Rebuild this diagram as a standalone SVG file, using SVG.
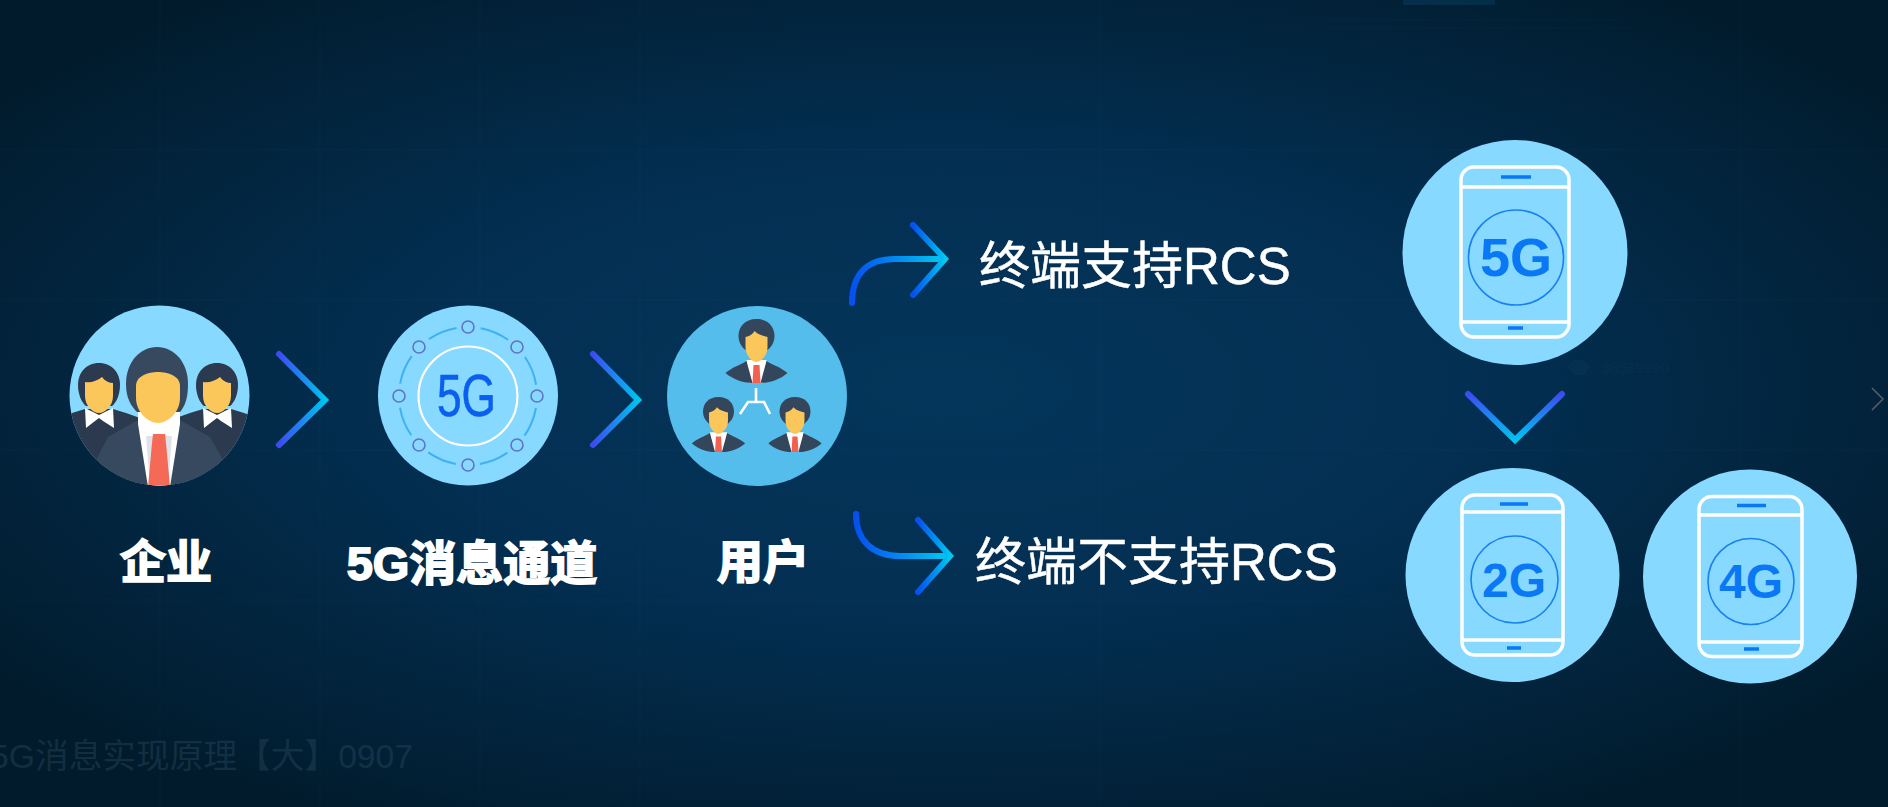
<svg xmlns="http://www.w3.org/2000/svg" xmlns:xlink="http://www.w3.org/1999/xlink" width="1888" height="807" viewBox="0 0 1888 807">
<style>
.lb{font-family:"Liberation Sans","Noto Sans CJK SC",sans-serif;font-weight:700;font-size:46px;fill:#fff;stroke:#fff;stroke-width:1.8px;text-anchor:middle}
.tx{font-family:"Liberation Sans","Noto Sans CJK SC",sans-serif;font-size:51px;fill:#fff;stroke:#fff;stroke-width:.5px}
.g{font-family:"Liberation Sans",sans-serif;font-weight:700;fill:#0a78f5;text-anchor:middle}
.disc{fill:#87d9ff}
.ph{fill:none;stroke:#fff;stroke-width:3.5}
.sp{stroke:#0a78f5;stroke-width:3.5;fill:none}
.ring{fill:none;stroke:#1a80f0;stroke-width:1.6}
.dot{fill:#87d9ff;stroke:#5f74c4;stroke-width:1.6}
.c{fill:none;stroke-width:6;stroke-linecap:round;stroke-linejoin:miter}
.grid{stroke:#4a90b8;stroke-width:1;opacity:.04}
.wm{font-family:"Liberation Sans","Noto Sans CJK SC",sans-serif;fill:#2b4a60;opacity:.42}
</style>
<defs>
<radialGradient id="bg" cx="0.5" cy="0.48" r="0.62">
<stop offset="0" stop-color="#04365b"/><stop offset="0.45" stop-color="#032f52"/><stop offset="0.8" stop-color="#02233b"/><stop offset="1" stop-color="#011b2c"/>
</radialGradient>
<linearGradient id="gh"><stop offset="0" stop-color="#3a4cf2"/><stop offset="1" stop-color="#00c4f0"/></linearGradient>
<linearGradient id="gv" x1="0" y1="0" x2="0" y2="1"><stop offset="0" stop-color="#3a4cf2"/><stop offset="1" stop-color="#00c4f0"/></linearGradient>
<linearGradient id="ga"><stop offset="0" stop-color="#0650f0"/><stop offset="1" stop-color="#00c8f0"/></linearGradient>
<clipPath id="c1"><circle cx="159.5" cy="395.5" r="90"/></clipPath>
<g id="p">
<path d="M0,0C-12,0-18,8-18,17C-18,23-15,28-11,31L11,31C15,28 18,23 18,17C18,8 12,0 0,0Z" fill="#34465c"/>
<path d="M-10,41L10,41L8,64L-8,64Z" fill="#fff"/>
<path d="M-31,54C-24,48-16,46-10,42L-4,64C-14,64-24,60-31,54ZM31,54C24,48 16,46 10,42L4,64C14,64 24,60 31,54Z" fill="#34465c"/>
<path d="M-11,18C-6,17-3,14-2,12C2,16 7,17 11,18L11,28C11,37 4,43 0,43C-4,43-11,37-11,28Z" fill="#fcc75a"/>
<path d="M-3,46L3,46L4,64L-4,64Z" fill="#f2604f"/>
</g>
<g id="side">
<path d="M-55,60L-27,50L-14,46L14,46L27,50L55,60L55,130L-55,130Z" fill="#2b3a4e"/>
<path d="M0,0C-13,0-21,10-21,22C-21,32-17,40-13,43L13,43C17,40 21,32 21,22C21,10 13,0 0,0Z" fill="#2b3a4e"/>
<path d="M-14,19C-8,20-2,18 3,14C6,18 10,20 14,20L14,33C14,43 6,50 0,50C-6,50-14,43-14,33Z" fill="#fcc75a"/>
<path d="M-14,45L0,52L14,45L15,65L4,58L0,55L-4,58L-13,65Z" fill="#fff"/>
</g>
</defs>
<rect id="background" width="1888" height="807" fill="url(#bg)"/>
<g id="grid">
<path class="grid" d="M0,150H1888M0,300H1888M0,450H1888M0,600H1888M1330,20H1620M1330,28H1630M160,0V807M320,0V807M480,0V807M640,0V807M1100,0V807M1740,0V807"/>
<rect x="1403" y="0" width="92" height="5" fill="#0b4a70" opacity=".35"/>
</g>
<g id="watermarks">
<text class="wm" x="-10" y="768" font-size="33.7">5G消息实现原理【大】0907</text>
<path d="M1567,367L1574,360H1584L1590,367L1584,375H1574Z" fill="#0a3a55" opacity=".4"/>
<text class="wm" x="1602" y="373" font-size="15" style="opacity:.14">38539990</text>
<path d="M1872,388L1883,399L1872,410" fill="none" stroke="#55606c" stroke-width="1.5"/>
</g>

<g id="node-enterprise">
<circle class="disc" cx="159.5" cy="395.5" r="90"/>
<g clip-path="url(#c1)">
<use xlink:href="#side" href="#side" transform="translate(99,363)"/>
<use xlink:href="#side" href="#side" transform="translate(217,363)"/>
<path d="M97,458L108,437L138,420L180,420L210,437L222,458L222,490L97,490Z" fill="#37495e"/>
<path d="M138,412L180,412L180,424L170,487L148,487L138,424Z" fill="#fff"/>
<path d="M146,436L172,436L168,487L150,487Z" fill="#dfe3e8"/>
<path d="M157,347C140,347 126,362 126,384C126,398 131,406 137,412L180,412C185,406 188,398 188,384C188,362 174,347 157,347Z" fill="#37495e"/>
<path d="M136,386C136,376 148,372 158,372C168,372 180,376 180,386L180,398C180,412 168,423 158,423C148,423 136,412 136,398Z" fill="#fcc75a"/>
<path d="M153,434L165,434L166,443L170,487L148,487L152,443Z" fill="#f56a57"/>
</g>
<text class="lb" x="166" y="578">企业</text>
</g>

<g id="node-channel">
<circle class="disc" cx="468" cy="395.5" r="90"/>
<circle cx="468" cy="396" r="69" fill="none" stroke="#3fb0f0" stroke-width="2" stroke-dasharray="30 24.2" stroke-dashoffset="-12.1"/>
<circle class="dot" cx="537" cy="396" r="6"/><circle class="dot" cx="399" cy="396" r="6"/>
<circle class="dot" cx="468" cy="327" r="6"/><circle class="dot" cx="468" cy="465" r="6"/>
<circle class="dot" cx="517" cy="347" r="6"/><circle class="dot" cx="419" cy="347" r="6"/>
<circle class="dot" cx="517" cy="445" r="6"/><circle class="dot" cx="419" cy="445" r="6"/>
<circle cx="468" cy="396" r="49.5" fill="none" stroke="#fff" stroke-width="2.2"/>
<text x="437" y="416" font-family="Liberation Sans,sans-serif" font-size="60" fill="#0a5ff0" stroke="#0a5ff0" stroke-width=".6" textLength="59" lengthAdjust="spacingAndGlyphs">5G</text>
<text class="lb" x="472" y="580" style="font-size:47px">5G消息通道</text>
</g>

<g id="node-users">
<circle cx="757" cy="396" r="90" fill="#55bdec"/>
<use xlink:href="#p" href="#p" transform="translate(756.5,319)"/>
<use xlink:href="#p" href="#p" transform="translate(718.5,397) scale(.86)"/>
<use xlink:href="#p" href="#p" transform="translate(795,397) scale(.86)"/>
<path d="M756,388V402M740,414L748,402H764L770,414" fill="none" stroke="#fff" stroke-width="2.6"/>
<text class="lb" x="763" y="578">用户</text>
</g>

<g id="node-rcs-yes"><text class="tx" x="979" y="284">终端支持RCS</text></g>
<g id="node-rcs-no"><text class="tx" x="975" y="580">终端不支持RCS</text></g>

<g id="node-phone-5g">
<circle class="disc" cx="1515" cy="252.5" r="112.5"/>
<rect class="ph" x="1461" y="167" width="108" height="170" rx="13"/>
<path class="ph" d="M1461,187H1569M1461,322H1569"/>
<path class="sp" d="M1501,177H1531M1508,328H1523"/>
<ellipse class="ring" cx="1516" cy="257.5" rx="47.5" ry="47.5"/>
<text class="g" x="1516" y="276" font-size="54">5G</text>
</g>
<g id="node-phone-2g">
<circle class="disc" cx="1512.5" cy="575" r="107"/>
<rect class="ph" x="1462" y="495" width="101" height="160" rx="13"/>
<path class="ph" d="M1462,512H1563M1462,640H1563"/>
<path class="sp" d="M1500,504H1528M1507,648H1521"/>
<circle class="ring" cx="1514.5" cy="579.5" r="43.5"/>
<text class="g" x="1514" y="597" font-size="48">2G</text>
</g>
<g id="node-phone-4g">
<circle class="disc" cx="1750" cy="576.5" r="107"/>
<rect class="ph" x="1699" y="496.5" width="103" height="160" rx="13"/>
<path class="ph" d="M1699,515H1802M1699,642H1802"/>
<path class="sp" d="M1737,505.5H1766M1744,649H1759"/>
<circle class="ring" cx="1751" cy="581.5" r="43"/>
<text class="g" x="1751" y="598" font-size="48">4G</text>
</g>

<g id="connectors">
<polyline class="c" stroke="url(#gh)" points="279,354 325,400 279,445"/>
<polyline class="c" stroke="url(#gh)" points="593,354 638,400 593,445"/>
<path class="c" stroke="url(#ga)" d="M852,303C852,275 866,259 895,259L944,259"/>
<polyline class="c" stroke="url(#ga)" points="913,225 945,259 913,295"/>
<path class="c" stroke="url(#ga)" d="M856,514C856,540 872,556 900,556L948,556"/>
<polyline class="c" stroke="url(#ga)" points="918,520 950,556 918,592"/>
<polyline class="c" stroke="url(#gv)" points="1468,394 1515,440 1562,394"/>
</g>
</svg>
